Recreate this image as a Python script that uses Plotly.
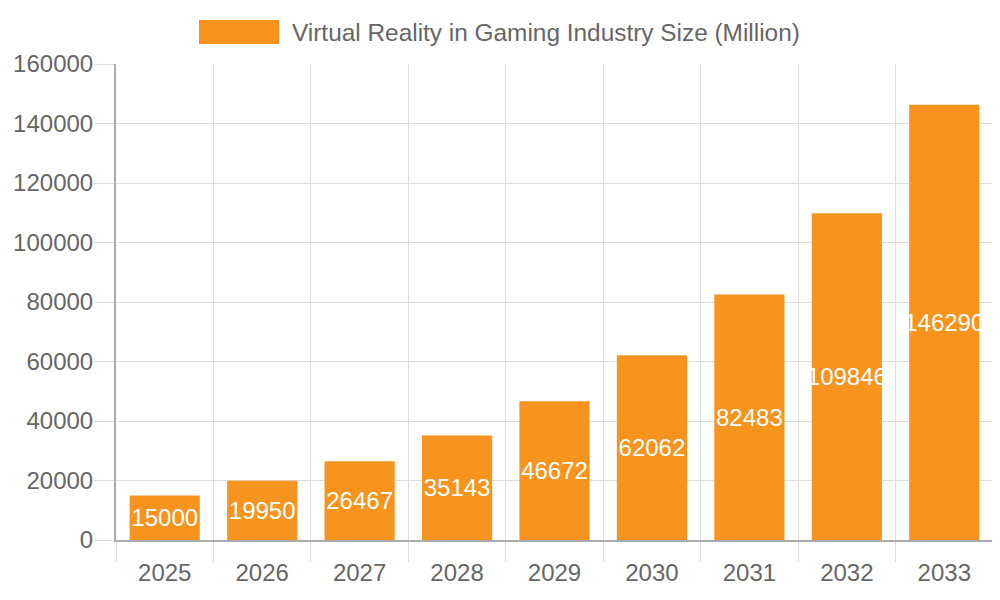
import plotly.graph_objects as go

years = ["2025", "2026", "2027", "2028", "2029", "2030", "2031", "2032", "2033"]
market_size = [15000, 19950, 26467, 35143, 46672, 62062, 82483, 109846, 146290]
series_name = "Virtual Reality in Gaming Industry Size (Million)"

orange = "#F7941E"
grey_text = "#666666"
grid = "#dddddd"
axis_col = "#ababab"
fnt = "Liberation Sans"

# the page puts the figure 8px in from the corner, so margins are shifted by that
L, R, T, B = 108, 15, 56, 68
pw, ph = 1000 - L - R, 600 - T - B

fig = go.Figure()
fig.add_trace(go.Bar(
    x=years, y=market_size, name=series_name,
    marker=dict(color=orange, line=dict(width=0)),
    text=[str(v) for v in market_size],
    textposition="inside", insidetextanchor="middle",
    constraintext="none", textangle=0,
    textfont=dict(color="white", size=24, family=fnt),
    showlegend=False,
))

# legend drawn by hand to get the wide colour box
fig.add_shape(type="rect", xref="paper", yref="paper",
              x0=(191 - L) / pw, x1=(271 - L) / pw,
              y0=(600 - B - 36) / ph, y1=(600 - B - 12) / ph,
              fillcolor=orange, line=dict(width=0))
fig.add_annotation(text=series_name, xref="paper", yref="paper",
                   x=(282 - L) / pw, y=(600 - B - 24) / ph,
                   xanchor="left", yanchor="middle", showarrow=False,
                   font=dict(size=24.4, color=grey_text, family=fnt))

fig.update_layout(
    width=1000, height=600,
    margin=dict(l=L, r=R, t=T, b=B),
    plot_bgcolor="white", paper_bgcolor="white",
    bargap=0.28,
    font=dict(family=fnt, size=24, color=grey_text),
    xaxis=dict(type="category", tickson="boundaries", showgrid=True,
               gridcolor=grid, ticks="outside", ticklen=20, tickcolor=grid,
               ticklabelstandoff=10, automargin=False,
               showline=True, linecolor=axis_col, linewidth=2),
    yaxis=dict(range=[0, 160000], dtick=20000, tickformat="d",
               showgrid=True, gridcolor=grid, ticks="outside", ticklen=20,
               tickcolor=grid, ticklabelstandoff=-4, automargin=False,
               showline=True, linecolor=axis_col, linewidth=2,
               zeroline=False),
)

fig.write_html("out.html")
